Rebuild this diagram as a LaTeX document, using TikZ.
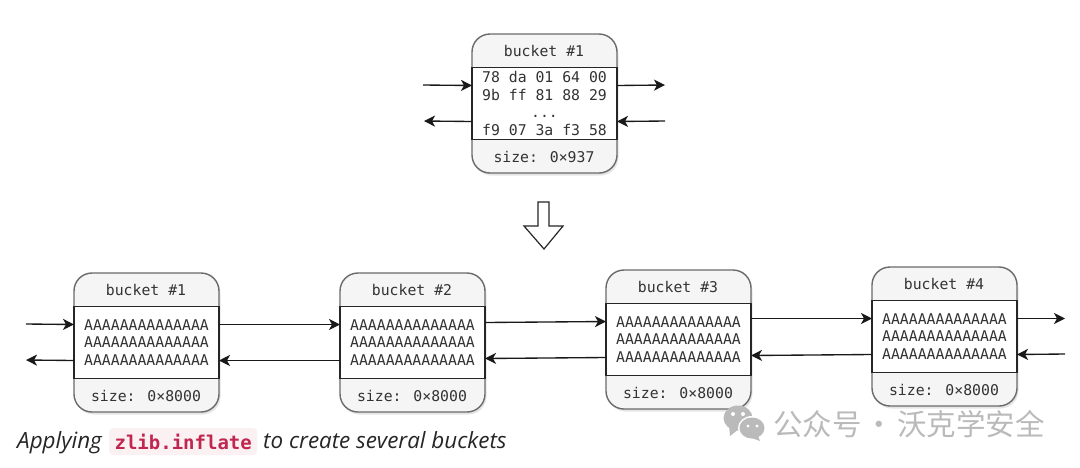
\documentclass[tikz,border=0pt]{standalone}
\usepackage{fontspec}
\usetikzlibrary{arrows.meta,shadows}
\newfontfamily\monofnt{DejaVu Sans Mono}
\newfontfamily\capfnt{Open Sans}
\newfontfamily\cjkfnt[WordSpace=0.45]{Noto Sans CJK SC}
\definecolor{boxfill}{HTML}{F5F5F5}
\definecolor{boxedge}{HTML}{6A6A6A}
\definecolor{chipfill}{HTML}{FBF1F3}
\definecolor{chiptext}{HTML}{C0264F}
\definecolor{markgray}{HTML}{BABABA}
\tikzset{
  bucketbox/.style={shape=rectangle, rounded corners=18pt, minimum width=145pt, minimum height=139pt, inner sep=0pt, outer sep=0pt, draw=boxedge, fill=boxfill, line width=1.4pt, drop shadow={opacity=0.2, shadow xshift=1.5pt, shadow yshift=-2.5pt}},
  databox/.style={shape=rectangle, minimum width=145pt, minimum height=72pt, inner sep=0pt, outer sep=0pt, draw=black!85, fill=white, line width=1.3pt, align=center, text=black!80, font=\monofnt\fontsize{14.8}{17.6}\selectfont},
  boxlabel/.style={inner sep=0pt, text=black!80, font=\monofnt\fontsize{14.8}{17.6}\selectfont},
  link/.style={draw=black!90, line width=1.35pt, -{Stealth[length=11pt,width=11pt,inset=3pt]}}
}
\begin{document}
\begin{tikzpicture}[x=1pt,y=-1pt]
\path [use as bounding box, fill=white] (0,0) rectangle (1080,467);

% top bucket
\node [bucketbox] (b0) at (544.5,103.5) {};
\node [databox] (m0) at (b0.center) {78 da 01 64 00\\9b ff 81 88 29\\...\\f9 07 3a f3 58};
\node [boxlabel] (t0) at (544,51) {bucket \#1};
\node [boxlabel] (s0) at (544,157) {size: 0×937};
\coordinate (in0) at (423,85);
\coordinate (out0) at (665,85);
\coordinate (back0) at (665,121);
\coordinate (ret0) at (424,121);
\draw [link] (in0) -- ([yshift=18pt]m0.west);
\draw [link] ([yshift=18pt]m0.east) -- (out0);
\draw [link] (back0) -- ([yshift=-18pt]m0.east);
\draw [link] ([yshift=-18pt]m0.west) -- (ret0);

% big arrow
\draw [draw=black!85, fill=white, line width=1.2pt] (538,202) -- (549,202) -- (549,226) -- (563,226) -- (544,249) -- (524,226) -- (538,226) -- cycle;

% lower buckets
\node [bucketbox] (b1) at (146.5,342.5) {};
\node [databox] (m1) at (b1.center) {AAAAAAAAAAAAAA\\AAAAAAAAAAAAAA\\AAAAAAAAAAAAAA};
\node [boxlabel] (t1) at (146,290) {bucket \#1};
\node [boxlabel] (s1) at (146,396) {size: 0×8000};

\node [bucketbox] (b2) at (412.5,342.5) {};
\node [databox] (m2) at (b2.center) {AAAAAAAAAAAAAA\\AAAAAAAAAAAAAA\\AAAAAAAAAAAAAA};
\node [boxlabel] (t2) at (412,290) {bucket \#2};
\node [boxlabel] (s2) at (412,396) {size: 0×8000};

\node [bucketbox] (b3) at (678.5,339.5) {};
\node [databox] (m3) at (b3.center) {AAAAAAAAAAAAAA\\AAAAAAAAAAAAAA\\AAAAAAAAAAAAAA};
\node [boxlabel] (t3) at (678,287) {bucket \#3};
\node [boxlabel] (s3) at (678,393) {size: 0×8000};

\node [bucketbox] (b4) at (944.5,336.5) {};
\node [databox] (m4) at (b4.center) {AAAAAAAAAAAAAA\\AAAAAAAAAAAAAA\\AAAAAAAAAAAAAA};
\node [boxlabel] (t4) at (944,284) {bucket \#4};
\node [boxlabel] (s4) at (944,390) {size: 0×8000};

\coordinate (in1) at (26,324);
\coordinate (ret1) at (26,360);
\coordinate (out4) at (1065,318.5);
\coordinate (back4) at (1065,354);
\draw [link] (in1) -- ([yshift=18pt]m1.west);
\draw [link] ([yshift=-18pt]m1.west) -- (ret1);
\draw [link] ([yshift=18pt]m1.east) -- ([yshift=18pt]m2.west);
\draw [link] ([yshift=-18pt]m2.west) -- ([yshift=-18pt]m1.east);
\draw [link] ([yshift=20pt]m2.east) -- ([yshift=18pt]m3.west);
\draw [link] ([yshift=-18pt]m3.west) -- ([yshift=-16pt]m2.east);
\draw [link] ([yshift=21pt]m3.east) -- ([yshift=18pt]m4.west);
\draw [link] ([yshift=-18pt]m4.west) -- ([yshift=-16pt]m3.east);
\draw [link] ([yshift=18pt]m4.east) -- (out4);
\draw [link] (back4) -- ([yshift=-18pt]m4.east);

% caption
\node [anchor=base west, inner sep=0pt, text=black!85, font=\capfnt\itshape\fontsize{22.4}{24}\selectfont] (cap1) at (17,448) {Applying};
\node [anchor=west, shape=rectangle, rounded corners=4pt, fill=chipfill, minimum width=148pt, minimum height=27pt, inner sep=0pt, text=chiptext, font=\monofnt\bfseries\fontsize{19}{22}\selectfont] (chip) at (109,441.5) {zlib.inflate};
\node [anchor=base west, inner sep=0pt, text=black!85, font=\capfnt\itshape\fontsize{22.4}{24}\selectfont] (cap2) at (263,448) {to create several buckets};

% watermark
\begin{scope}[markgray]
\fill (738,418) ellipse [x radius=14.5pt, y radius=12.5pt];
\fill (729,425) -- (730,436) -- (739,429) -- cycle;
\fill [white] (752,428) ellipse [x radius=14pt, y radius=12pt];
\fill (752,428) ellipse [x radius=12.5pt, y radius=10.5pt];
\fill (757,434) -- (760,441) -- (749,437) -- cycle;
\fill [white] (733,414) circle [radius=2pt];
\fill [white] (743,414) circle [radius=2pt];
\fill [white] (748,426) circle [radius=1.6pt];
\fill [white] (757,426) circle [radius=1.6pt];
\end{scope}
\node [anchor=west, inner sep=0pt, text=markgray, font=\cjkfnt\fontsize{29.5}{32}\selectfont] (mark) at (773,424) {公众号 · 沃克学安全};
\end{tikzpicture}
\end{document}
